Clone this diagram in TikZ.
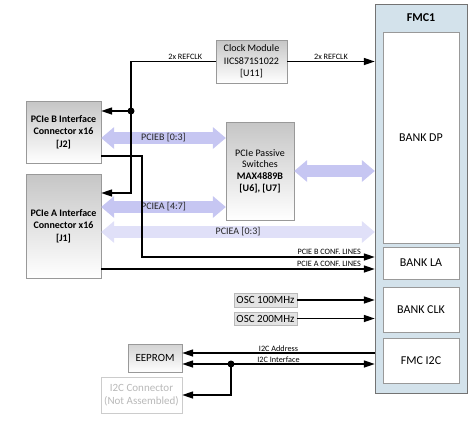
\documentclass[tikz,border=0pt]{standalone}
\usepackage{fontspec}
\setmainfont{Carlito}
\usetikzlibrary{arrows.meta}

\definecolor{fmcblue}{RGB}{211,226,235}
\definecolor{lav}{RGB}{198,198,242}
\definecolor{lavlight}{RGB}{224,224,248}

\tikzset{
  graybox/.style={draw=gray!80, top color=gray!45, bottom color=white, inner sep=0pt, align=center, font=\fontsize{10}{12.5}\selectfont},
  whitebox/.style={draw=gray!80, fill=white, inner sep=0pt, minimum width=76pt, font=\fontsize{12}{14}\selectfont},
  oscbox/.style={draw=gray!55, fill=gray!22, inner sep=0pt, minimum width=63pt, font=\fontsize{11}{13}\selectfont},
  sig/.style={line width=1.6pt, ->},
  sigboth/.style={line width=1.6pt, <->},
  fat/.style={line width=12pt, {Triangle[length=13pt,width=22pt,line width=0pt]}-{Triangle[length=13pt,width=22pt,line width=0pt]}},
  fatlabel/.style={text=black!85, font=\fontsize{10}{12}\selectfont},
  tiny/.style={font=\fontsize{8.2}{9}\selectfont, inner sep=1pt},
}

\begin{document}
\begin{tikzpicture}[x=1pt, y=-1pt, >={Triangle[length=11pt,width=7pt]}]
\useasboundingbox (0,0) rectangle (474,424);

% FMC1 side
\node[draw=gray!90!black, fill=fmcblue, minimum width=92pt, minimum height=389pt, inner sep=0pt] (fmc) at (421,198.5) {};
\node[font=\bfseries\fontsize{12}{14}\selectfont] (fmctitle) at (421,18) {FMC1};
\node[whitebox, minimum height=211pt] (bdp) at (421,137.5) {BANK DP};
\node[whitebox, minimum height=32pt] (bla) at (421,263) {BANK LA};
\node[whitebox, minimum height=45pt] (bclk) at (421,309.5) {BANK CLK};
\node[whitebox, minimum height=45pt] (bi2c) at (421,360.5) {FMC I2C};

% boxes
\node[graybox, font=\bfseries\fontsize{10}{12.5}\selectfont, minimum width=75pt, minimum height=62pt] (pcieB) at (63.5,132) {PCIe B Interface\\Connector x16\\{[J2]}};
\node[graybox, font=\bfseries\fontsize{10}{12.5}\selectfont, minimum width=75pt, minimum height=104pt] (pcieA) at (63.5,226) {PCIe A Interface\\Connector x16\\{[J1]}};
\node[graybox, minimum width=71pt, minimum height=43pt] (clk) at (251.5,61.5) {Clock Module\\IICS871S1022\\{[U11]}};
\node[graybox, font=\fontsize{10}{11.7}\selectfont, minimum width=68pt, minimum height=98pt] (sw) at (260,171) {PCIe Passive\\Switches\\\textbf{MAX4889B}\\\textbf{[U6], [U7]}};
\node[oscbox, minimum height=14pt] (osca) at (265.5,300) {OSC 100MHz};
\node[oscbox, minimum height=13pt] (oscb) at (265.5,318.5) {OSC 200MHz};
\node[graybox, top color=gray!35, font=\fontsize{11}{13}\selectfont, minimum width=54pt, minimum height=28pt] (eeprom) at (155,358) {EEPROM};
\node[draw=gray!40, fill=white, text=gray!55, align=center, inner sep=0pt, font=\fontsize{11}{13}\selectfont, minimum width=81pt, minimum height=36pt] (i2ccon) at (141.5,395) {I2C Connector\\(Not Assembled)};

% PCIe lanes
\draw[fat, lav] (pcieB.east |- 0,138) -- (sw.west |- 0,138) node[fatlabel, midway] {PCIEB [0:3]};
\draw[fat, lav] (pcieA.east |- 0,207) -- (sw.west |- 0,207) node[fatlabel, midway] {PCIEA [4:7]};
\draw[fat, lavlight] (pcieA.east |- 0,232) -- (fmc.west |- 0,232) node[fatlabel, midway] {PCIEA [0:3]};
\draw[fat, lav] (sw.east) -- (sw.east -| fmc.west);

% clocks
\coordinate (jb) at (131,111);
\coordinate (ja) at (131,193);
\draw[sig] (clk.east) -- (clk.east -| fmc.west) node[tiny, midway, above] {2x REFCLK};
\draw[sig] (clk.west) -| node[tiny, above, pos=0.18] {2x REFCLK} (ja) -- (ja -| pcieA.east);
\draw[sig] (jb) -- (jb -| pcieB.east);
\fill (jb) circle (3.5pt);

% conf lines
\coordinate (cb) at (142,156);
\draw[sig] (cb -| pcieB.east) -- (cb) |- (fmc.west |- 0,257);
\draw[sig] (pcieA.east |- 0,269) -- (fmc.west |- 0,269);
\node[tiny, anchor=south east] (lblb) at (362,256) {PCIE B CONF. LINES};
\node[tiny, anchor=south east] (lbla) at (362,268) {PCIE A CONF. LINES};

% oscillators
\draw[sig] (osca.east) -- (osca.east -| fmc.west);
\draw[sig] (oscb.east) -- (oscb.east -| fmc.west);

% i2c
\coordinate (ji) at (231,364);
\draw[sig] (fmc.west |- 0,353) -- (eeprom.east |- 0,353) node[tiny, midway, above] {I2C Address};
\draw[sigboth] (eeprom.east |- 0,364) -- (fmc.west |- 0,364) node[tiny, midway, above] {I2C Interface};
\draw[sig] (ji) |- (i2ccon.east);
\fill (ji) circle (3.5pt);
\end{tikzpicture}
\end{document}
